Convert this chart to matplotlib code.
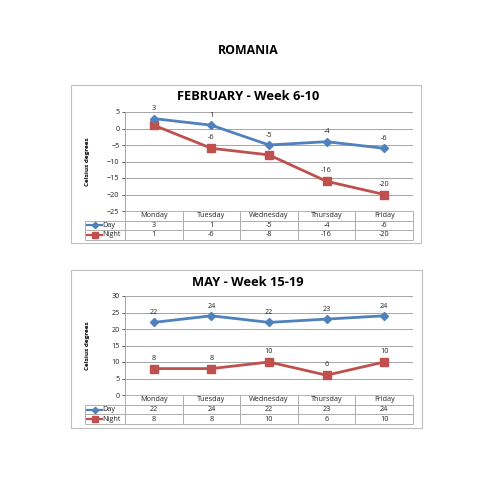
import matplotlib
matplotlib.use("Agg")
import matplotlib.pyplot as plt
from matplotlib.patches import Rectangle

plt.rcParams['font.family'] = ['Open Sans', 'DejaVu Sans']

days = ["Monday", "Tuesday", "Wednesday", "Thursday", "Friday"]
series_names = ["Day", "Night"]

feb_day = [3, 1, -5, -4, -6]
feb_night = [1, -6, -8, -16, -20]
feb_night_label_shown = [False, True, False, True, True]

may_day = [22, 24, 22, 23, 24]
may_night = [8, 8, 10, 6, 10]
may_night_label_shown = [True, True, True, True, True]

country = "ROMANIA"
feb_title = "FEBRUARY - Week 6-10"
may_title = "MAY - Week 15-19"
ylabel = "Celsius degrees"

W = H = 495
fig = plt.figure(figsize=(4.95, 4.95), dpi=100)
fig.patch.set_facecolor("white")

BLUE = "#4F81BD"
RED = "#C0504D"
GRID = "#A6A6A6"
TXT = "#404040"


def fx(x):
    return x / W


def fy(y):
    return 1 - y / H


fig.text(fx(248), fy(50), country, ha="center", va="center",
         fontsize=8.8, fontweight="bold", color="black")


def chart(box, plot, title, title_y, day, night, night_shown, ylim, ystep, table_bottom):
    bx0, by0, bx1, by1 = box
    fig.patches.append(Rectangle((fx(bx0), fy(by1)), fx(bx1) - fx(bx0), fy(by0) - fy(by1),
                                 transform=fig.transFigure, fill=False,
                                 edgecolor="#BFBFBF", linewidth=0.8))
    px0, py0, px1, py1 = plot
    ax = fig.add_axes([fx(px0), fy(py1), fx(px1) - fx(px0), fy(py0) - fy(py1)])
    ax.set_xlim(-0.5, len(days) - 0.5)
    ax.set_ylim(*ylim)
    ticks = list(range(ylim[0], ylim[1] + 1, ystep))
    ax.set_yticks(ticks)
    ax.set_xticks([])
    ax.tick_params(axis="y", labelsize=5.2, colors=TXT, length=2, width=0.6, pad=2)
    for t in ax.get_yticklabels():
        t.set_color("#222222")
    ax.grid(axis="y", color=GRID, linewidth=0.7)
    ax.set_axisbelow(True)
    for s in ["top", "right", "bottom"]:
        ax.spines[s].set_visible(False)
    ax.spines["left"].set_color(GRID)
    ax.spines["left"].set_linewidth(0.7)
    x = list(range(len(days)))
    ax.plot(x, day, color=BLUE, lw=2.0, marker="D", ms=4.5, mfc=BLUE, mec=BLUE, zorder=4)
    ax.plot(x, night, color=RED, lw=2.0, marker="s", ms=5.3, mfc=RED, mec=RED, zorder=3)
    for i, v in enumerate(day):
        ax.annotate(str(v), (i, v), xytext=(0, 4.5), textcoords="offset points",
                    ha="center", va="bottom", fontsize=5.2, color="#222222", zorder=5)
    for i, v in enumerate(night):
        if night_shown[i]:
            ax.annotate(str(v), (i, v), xytext=(0, 5), textcoords="offset points",
                        ha="center", va="bottom", fontsize=5.2, color="#222222", zorder=5)
    fig.text(fx(88), fy((py0 + py1) / 2), ylabel, rotation=90, ha="center", va="center",
             fontsize=4.6, fontweight="bold", color="black")
    fig.text(fx(248), fy(title_y), title, ha="center", va="center",
             fontsize=9.3, fontweight="bold", color="black")

    # data table
    tx0 = 85
    pw = px1 - px0
    ph = py1 - py0
    cell_text = [[series_names[0]] + [str(v) for v in day],
                 [series_names[1]] + [str(v) for v in night]]
    col_labels = [""] + days
    lab_w = px0 - tx0
    col_w = pw / len(days)
    widths = [lab_w] + [col_w] * len(days)
    tot = sum(widths)
    widths = [w / tot for w in widths]
    tb = ax.table(cellText=cell_text, colLabels=col_labels, colWidths=widths,
                  cellLoc="center",
                  bbox=[(tx0 - px0) / pw, -(table_bottom - py1) / ph,
                        (px1 - tx0) / pw, (table_bottom - py1) / ph])
    tb.auto_set_font_size(False)
    tb.set_fontsize(5.2)
    for (r, c), cell in tb.get_celld().items():
        cell.set_edgecolor(GRID)
        cell.set_linewidth(0.6)
        cell.get_text().set_color("#222222")
        if r == 0 and c == 0:
            cell.visible_edges = ""
        if r > 0 and c == 0:
            cell.get_text().set_ha("left")
            cell._loc = "left"
            cell.PAD = (102 - tx0) / lab_w
    # legend keys inside row label cells
    rows_h = (table_bottom - py1) / 3
    for k, (col, mk, ms) in enumerate([(BLUE, "D", 3.2), (RED, "s", 4.2)]):
        yk = py1 + rows_h * (k + 1.5)
        ax.plot([(87 - px0) / pw, (102 - px0) / pw], [-(yk - py1) / ph] * 2,
                transform=ax.transAxes, clip_on=False, color=col, lw=1.6, zorder=6)
        ax.plot([(95 - px0) / pw], [-(yk - py1) / ph], transform=ax.transAxes,
                clip_on=False, color=col, marker=mk, ms=ms, zorder=6)
    return ax


chart((71, 85, 421, 243), (125, 112, 413, 211), feb_title, 97,
      feb_day, feb_night, feb_night_label_shown, (-25, 5), 5, 239.5)
chart((71, 270, 422, 428), (125, 296, 413, 395), may_title, 282,
      may_day, may_night, may_night_label_shown, (0, 30), 5, 424)

fig.savefig("out.png", dpi=100, facecolor="white")
